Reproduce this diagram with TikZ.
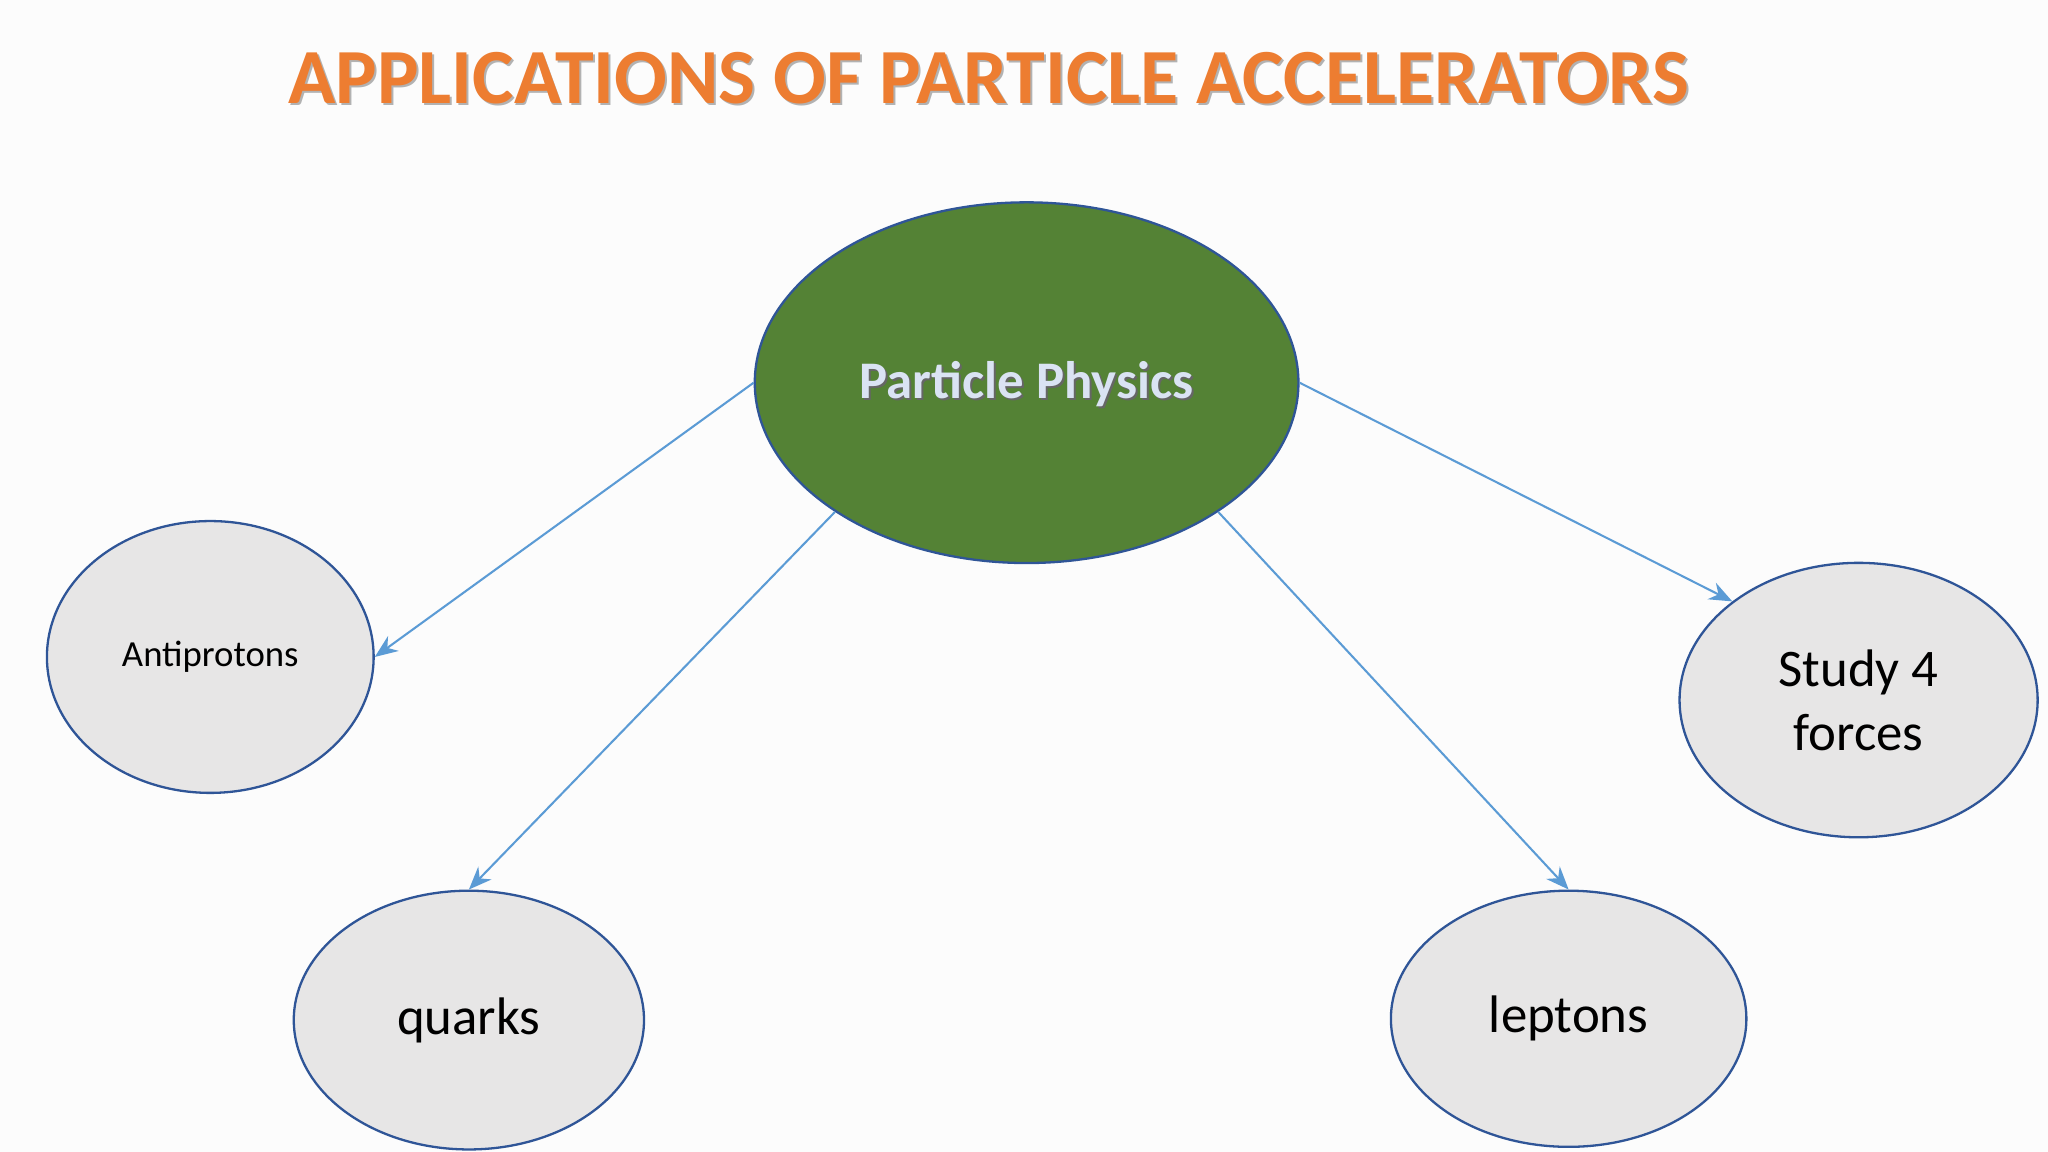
\documentclass[tikz,border=0pt]{standalone}
\usepackage{fontspec}
\setmainfont{Carlito}
\usetikzlibrary{shapes.geometric,arrows.meta}
\definecolor{ttl}{HTML}{ED7D31}
\definecolor{grn}{HTML}{548235}
\definecolor{edge}{HTML}{2F5597}
\definecolor{arr}{HTML}{5B9BD5}
\definecolor{gry}{HTML}{E7E6E6}
\definecolor{ptxt}{HTML}{DAE3F3}
\tikzset{
 leaf/.style={ellipse,draw=edge,fill=gry,line width=0.5pt,inner sep=0pt,align=center,text=black},
 conn/.style={draw=arr,line width=0.45pt,-{Stealth[length=5pt,width=4pt]}}
}
\begin{document}
\begin{tikzpicture}[x=0.01cm,y=-0.01cm]
\useasboundingbox[fill=white!98!gray] (0,0) rectangle (1568,882);
\node[text=gray!60,font=\fontsize{17}{20}\selectfont\bfseries] at (758.5,61.5) {APPLICATIONS OF PARTICLE ACCELERATORS};
\node (title)[text=ttl,font=\fontsize{17}{20}\selectfont\bfseries] at (757,60) {APPLICATIONS OF PARTICLE ACCELERATORS};
\node (pp)[ellipse,draw=edge,fill=grn,line width=0.5pt,minimum width=4.16cm,minimum height=2.76cm] at (786,293) {};
\node[text=black!60,font=\fontsize{11.5}{14}\selectfont\bfseries] at (787.5,295.5) {Particle Physics};
\node[text=ptxt,font=\fontsize{11.5}{14}\selectfont\bfseries] at (786,294) {Particle Physics};
\node (anti)[leaf,minimum width=2.5cm,minimum height=2.08cm,font=\fontsize{8}{10}\selectfont] at (161,503) {Antiprotons};
\node (study)[leaf,minimum width=2.74cm,minimum height=2.1cm,font=\fontsize{11.5}{14}\selectfont] at (1423,536) {Study 4\\forces};
\node (quarks)[leaf,minimum width=2.68cm,minimum height=1.98cm,font=\fontsize{11.5}{14}\selectfont] at (359,781) {quarks};
\node (leptons)[leaf,minimum width=2.72cm,minimum height=1.96cm,font=\fontsize{11.5}{14}\selectfont] at (1201,780) {leptons};
\draw[conn] (pp.west) -- (anti.east);
\draw[conn] (pp.-146) -- (quarks.north);
\draw[conn] (pp.-34) -- (leptons.north);
\draw[conn] (pp.east) -- (study.142);
\end{tikzpicture}
\end{document}
